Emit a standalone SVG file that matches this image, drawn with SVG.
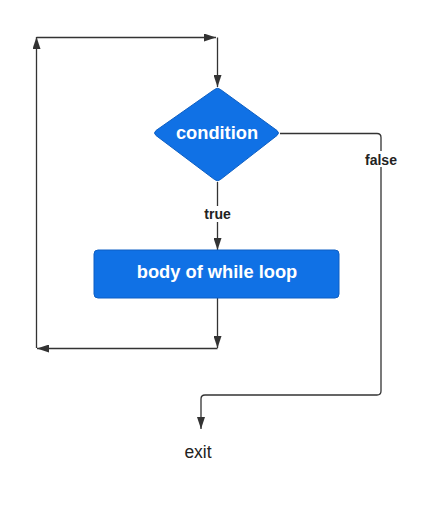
<svg xmlns="http://www.w3.org/2000/svg" width="430" height="512" viewBox="0 0 430 512">
<style>
.ln{fill:none;stroke:#333;stroke-width:1.3}
.nd{fill:#1071e5;stroke:#0d5fc4;stroke-width:1}
.nt{font-family:"Liberation Sans",Arial,sans-serif;font-weight:bold;font-size:18.3px;fill:#fff;text-anchor:middle}
.lb{font-family:"Liberation Sans",Arial,sans-serif;font-weight:bold;font-size:14px;fill:#222;text-anchor:middle}
.ex{font-family:"Liberation Sans",Arial,sans-serif;font-size:17.5px;fill:#222;text-anchor:middle}
</style>
<defs>
<marker id="ah" viewBox="0 0 12 8" refX="12" refY="4" markerWidth="12" markerHeight="8" markerUnits="userSpaceOnUse" orient="auto">
<path d="M0,0 L12,4 L0,8 Z" fill="#333"/>
</marker>
</defs>
<rect width="430" height="512" fill="#fff"/>
<g id="connectors">
<path class="ln" d="M36.5,348 L36.5,37" marker-end="url(#ah)"/>
<path class="ln" d="M36.5,37.5 L216,37.5" marker-end="url(#ah)"/>
<path class="ln" d="M217.5,37.5 L217.5,87" marker-end="url(#ah)"/>
<path class="ln" d="M217.5,182 L217.5,250" marker-end="url(#ah)"/>
<path class="ln" d="M217.5,298 L217.5,348" marker-end="url(#ah)"/>
<path class="ln" d="M217.5,348.5 L37,348.5" marker-end="url(#ah)"/>
<path class="ln" d="M280,133.5 L377,133.5 Q381,133.5 381,137.5 L381,391 Q381,395 377,395 L205,395 Q201,395 201,399 L201,429" marker-end="url(#ah)"/>
<rect x="198" y="206" width="39" height="16" fill="#fff"/>
<text class="lb" x="217.5" y="219">true</text>
<rect x="362" y="151" width="38" height="16" fill="#fff"/>
<text class="lb" x="381" y="165">false</text>
</g>
<g id="condition">
<path class="nd" d="M214.5,89.5 Q217.5,87 220.5,89.5 L277,130.5 Q280,133 277,135.5 L220.5,179.5 Q217.5,182 214.5,179.5 L156,135.5 Q153,133 156,130.5 Z"/>
<text class="nt" x="217" y="139">condition</text>
</g>
<g id="body">
<rect class="nd" x="94" y="250" width="245" height="48" rx="4"/>
<text class="nt" x="217" y="278">body of while loop</text>
</g>
<g id="exit">
<text class="ex" x="198" y="458">exit</text>
</g>
</svg>
